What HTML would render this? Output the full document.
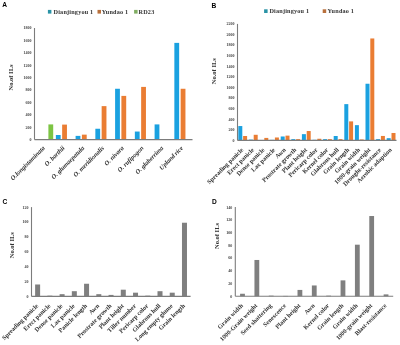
<!DOCTYPE html>
<html><head><meta charset="utf-8"><style>
html,body{margin:0;padding:0;background:#fff;width:400px;height:345px;overflow:hidden;}
svg{display:block;will-change:transform;}
</style></head><body>
<svg width="400" height="345" viewBox="0 0 400 345">
<rect width="400" height="345" fill="#fff"/>
<text x="2.2" y="7.2" font-family="Liberation Sans" font-weight="bold" font-size="6.6" fill="#000">A</text>
<text x="31.5" y="141.00" text-anchor="end" font-family="Liberation Serif" font-weight="bold" font-size="4.0" fill="#444">0</text>
<text x="31.5" y="128.60" text-anchor="end" font-family="Liberation Serif" font-weight="bold" font-size="4.0" fill="#444">200</text>
<text x="31.5" y="116.20" text-anchor="end" font-family="Liberation Serif" font-weight="bold" font-size="4.0" fill="#444">400</text>
<text x="31.5" y="103.80" text-anchor="end" font-family="Liberation Serif" font-weight="bold" font-size="4.0" fill="#444">600</text>
<text x="31.5" y="91.40" text-anchor="end" font-family="Liberation Serif" font-weight="bold" font-size="4.0" fill="#444">800</text>
<text x="31.5" y="79.00" text-anchor="end" font-family="Liberation Serif" font-weight="bold" font-size="4.0" fill="#444">1000</text>
<text x="31.5" y="66.60" text-anchor="end" font-family="Liberation Serif" font-weight="bold" font-size="4.0" fill="#444">1200</text>
<text x="31.5" y="54.20" text-anchor="end" font-family="Liberation Serif" font-weight="bold" font-size="4.0" fill="#444">1400</text>
<text x="31.5" y="41.80" text-anchor="end" font-family="Liberation Serif" font-weight="bold" font-size="4.0" fill="#444">1600</text>
<text x="31.5" y="29.40" text-anchor="end" font-family="Liberation Serif" font-weight="bold" font-size="4.0" fill="#444">1800</text>
<text transform="translate(13.3,77.5) rotate(-90)" text-anchor="middle" font-family="Liberation Serif" font-weight="bold" font-size="6.5" fill="#333">No.of ILs</text>
<rect x="48.40" y="124.41" width="4.8" height="15.19" fill="#7cc443"/>
<rect x="55.85" y="135.01" width="4.8" height="4.59" fill="#1aa1e0"/>
<rect x="62.15" y="124.60" width="4.8" height="15.00" fill="#ea7d33"/>
<rect x="75.60" y="135.88" width="4.8" height="3.72" fill="#1aa1e0"/>
<rect x="81.90" y="134.64" width="4.8" height="4.96" fill="#ea7d33"/>
<rect x="95.35" y="128.75" width="4.8" height="10.85" fill="#1aa1e0"/>
<rect x="101.65" y="106.12" width="4.8" height="33.48" fill="#ea7d33"/>
<rect x="115.10" y="88.76" width="4.8" height="50.84" fill="#1aa1e0"/>
<rect x="121.40" y="95.89" width="4.8" height="43.71" fill="#ea7d33"/>
<rect x="134.85" y="131.54" width="4.8" height="8.06" fill="#1aa1e0"/>
<rect x="141.15" y="86.90" width="4.8" height="52.70" fill="#ea7d33"/>
<rect x="154.60" y="124.41" width="4.8" height="15.19" fill="#1aa1e0"/>
<rect x="174.35" y="42.88" width="4.8" height="96.72" fill="#1aa1e0"/>
<rect x="180.65" y="88.76" width="4.8" height="50.84" fill="#ea7d33"/>
<line x1="34.5" y1="28" x2="34.5" y2="139.6" stroke="#7c7c7c" stroke-width="1.1"/>
<line x1="34.5" y1="139.6" x2="192.5" y2="139.6" stroke="#7c7c7c" stroke-width="1.1"/>
<text transform="translate(45.38,148.40) rotate(-45)" text-anchor="end" font-family="Liberation Serif" font-weight="bold" font-style="italic" font-size="6.4" fill="#333">O.longistaminata</text>
<text transform="translate(65.12,148.40) rotate(-45)" text-anchor="end" font-family="Liberation Serif" font-weight="bold" font-style="italic" font-size="6.4" fill="#333">O. barthii</text>
<text transform="translate(84.88,148.40) rotate(-45)" text-anchor="end" font-family="Liberation Serif" font-weight="bold" font-style="italic" font-size="6.4" fill="#333">O. glumaepatula</text>
<text transform="translate(104.62,148.40) rotate(-45)" text-anchor="end" font-family="Liberation Serif" font-weight="bold" font-style="italic" font-size="6.4" fill="#333">O. meridionalis</text>
<text transform="translate(124.38,148.40) rotate(-45)" text-anchor="end" font-family="Liberation Serif" font-weight="bold" font-style="italic" font-size="6.4" fill="#333">O. nivara</text>
<text transform="translate(144.12,148.40) rotate(-45)" text-anchor="end" font-family="Liberation Serif" font-weight="bold" font-style="italic" font-size="6.4" fill="#333">O. rufipogon</text>
<text transform="translate(163.88,148.40) rotate(-45)" text-anchor="end" font-family="Liberation Serif" font-weight="bold" font-style="italic" font-size="6.4" fill="#333">O. glaberrima</text>
<text transform="translate(183.62,148.40) rotate(-45)" text-anchor="end" font-family="Liberation Serif" font-weight="bold" font-style="italic" font-size="6.4" fill="#333">Upland rice</text>
<rect x="47.900000000000006" y="9.9" width="3.5" height="3.7" fill="#2a93a6"/>
<text x="53.5" y="13.8" font-family="Liberation Serif" font-weight="bold" font-size="6.2" fill="#333" letter-spacing="0.2">Dianjingyou 1</text>
<rect x="97.5" y="9.9" width="3.5" height="3.7" fill="#b8703c"/>
<text x="101.7" y="13.8" font-family="Liberation Serif" font-weight="bold" font-size="6.2" fill="#333" letter-spacing="0.2">Yundao 1</text>
<rect x="134.1" y="9.9" width="3.5" height="3.7" fill="#80ad62"/>
<text x="138.5" y="13.8" font-family="Liberation Serif" font-weight="bold" font-size="6.2" fill="#333" letter-spacing="0.2">RD23</text>
<text x="211.6" y="7.6" font-family="Liberation Sans" font-weight="bold" font-size="6.6" fill="#000">B</text>
<text x="234.5" y="141.80" text-anchor="end" font-family="Liberation Serif" font-weight="bold" font-size="4.0" fill="#444">0</text>
<text x="234.5" y="131.21" text-anchor="end" font-family="Liberation Serif" font-weight="bold" font-size="4.0" fill="#444">200</text>
<text x="234.5" y="120.62" text-anchor="end" font-family="Liberation Serif" font-weight="bold" font-size="4.0" fill="#444">400</text>
<text x="234.5" y="110.03" text-anchor="end" font-family="Liberation Serif" font-weight="bold" font-size="4.0" fill="#444">600</text>
<text x="234.5" y="99.44" text-anchor="end" font-family="Liberation Serif" font-weight="bold" font-size="4.0" fill="#444">800</text>
<text x="234.5" y="88.85" text-anchor="end" font-family="Liberation Serif" font-weight="bold" font-size="4.0" fill="#444">1000</text>
<text x="234.5" y="78.25" text-anchor="end" font-family="Liberation Serif" font-weight="bold" font-size="4.0" fill="#444">1200</text>
<text x="234.5" y="67.66" text-anchor="end" font-family="Liberation Serif" font-weight="bold" font-size="4.0" fill="#444">1400</text>
<text x="234.5" y="57.07" text-anchor="end" font-family="Liberation Serif" font-weight="bold" font-size="4.0" fill="#444">1600</text>
<text x="234.5" y="46.48" text-anchor="end" font-family="Liberation Serif" font-weight="bold" font-size="4.0" fill="#444">1800</text>
<text x="234.5" y="35.89" text-anchor="end" font-family="Liberation Serif" font-weight="bold" font-size="4.0" fill="#444">2000</text>
<text x="234.5" y="25.30" text-anchor="end" font-family="Liberation Serif" font-weight="bold" font-size="4.0" fill="#444">2200</text>
<text transform="translate(215.6,71.2) rotate(-90)" text-anchor="middle" font-family="Liberation Serif" font-weight="bold" font-size="6.5" fill="#333">No.of ILs</text>
<rect x="238.30" y="126.05" width="4.0" height="14.35" fill="#1aa1e0"/>
<rect x="243.10" y="136.00" width="4.0" height="4.40" fill="#ea7d33"/>
<rect x="248.90" y="139.61" width="4.0" height="0.79" fill="#1aa1e0"/>
<rect x="253.70" y="134.79" width="4.0" height="5.61" fill="#ea7d33"/>
<rect x="259.50" y="139.98" width="4.0" height="0.42" fill="#1aa1e0"/>
<rect x="264.30" y="137.91" width="4.0" height="2.49" fill="#ea7d33"/>
<rect x="270.10" y="139.87" width="4.0" height="0.53" fill="#1aa1e0"/>
<rect x="274.90" y="137.49" width="4.0" height="2.91" fill="#ea7d33"/>
<rect x="280.70" y="136.48" width="4.0" height="3.92" fill="#1aa1e0"/>
<rect x="285.50" y="135.63" width="4.0" height="4.77" fill="#ea7d33"/>
<rect x="291.30" y="139.13" width="4.0" height="1.27" fill="#1aa1e0"/>
<rect x="296.10" y="139.13" width="4.0" height="1.27" fill="#ea7d33"/>
<rect x="301.90" y="134.15" width="4.0" height="6.25" fill="#1aa1e0"/>
<rect x="306.70" y="131.03" width="4.0" height="9.37" fill="#ea7d33"/>
<rect x="312.50" y="139.82" width="4.0" height="0.58" fill="#1aa1e0"/>
<rect x="317.30" y="138.76" width="4.0" height="1.64" fill="#ea7d33"/>
<rect x="323.10" y="139.13" width="4.0" height="1.27" fill="#1aa1e0"/>
<rect x="327.90" y="139.13" width="4.0" height="1.27" fill="#ea7d33"/>
<rect x="333.70" y="136.00" width="4.0" height="4.40" fill="#1aa1e0"/>
<rect x="338.50" y="139.13" width="4.0" height="1.27" fill="#ea7d33"/>
<rect x="344.30" y="104.13" width="4.0" height="36.27" fill="#1aa1e0"/>
<rect x="349.10" y="121.39" width="4.0" height="19.01" fill="#ea7d33"/>
<rect x="354.90" y="125.15" width="4.0" height="15.25" fill="#1aa1e0"/>
<rect x="359.70" y="139.45" width="4.0" height="0.95" fill="#ea7d33"/>
<rect x="365.50" y="83.74" width="4.0" height="56.66" fill="#1aa1e0"/>
<rect x="370.30" y="38.46" width="4.0" height="101.94" fill="#ea7d33"/>
<rect x="376.10" y="139.13" width="4.0" height="1.27" fill="#1aa1e0"/>
<rect x="380.90" y="135.95" width="4.0" height="4.45" fill="#ea7d33"/>
<rect x="386.70" y="138.18" width="4.0" height="2.22" fill="#1aa1e0"/>
<rect x="391.50" y="132.99" width="4.0" height="7.41" fill="#ea7d33"/>
<line x1="237.5" y1="23.9" x2="237.5" y2="140.4" stroke="#7c7c7c" stroke-width="1.1"/>
<line x1="237.5" y1="140.4" x2="396.5" y2="140.4" stroke="#7c7c7c" stroke-width="1.1"/>
<text transform="translate(243.80,150.20) rotate(-45)" text-anchor="end" font-family="Liberation Serif" font-weight="bold" font-style="normal" font-size="6.3" fill="#333">Spreading panicle</text>
<text transform="translate(254.40,150.20) rotate(-45)" text-anchor="end" font-family="Liberation Serif" font-weight="bold" font-style="normal" font-size="6.3" fill="#333">Erect panicle</text>
<text transform="translate(265.00,150.20) rotate(-45)" text-anchor="end" font-family="Liberation Serif" font-weight="bold" font-style="normal" font-size="6.3" fill="#333">Dense panicle</text>
<text transform="translate(275.60,150.20) rotate(-45)" text-anchor="end" font-family="Liberation Serif" font-weight="bold" font-style="normal" font-size="6.3" fill="#333">Lax panicle</text>
<text transform="translate(286.20,150.20) rotate(-45)" text-anchor="end" font-family="Liberation Serif" font-weight="bold" font-style="normal" font-size="6.3" fill="#333">Awn</text>
<text transform="translate(296.80,150.20) rotate(-45)" text-anchor="end" font-family="Liberation Serif" font-weight="bold" font-style="normal" font-size="6.3" fill="#333">Prostrate growth</text>
<text transform="translate(307.40,150.20) rotate(-45)" text-anchor="end" font-family="Liberation Serif" font-weight="bold" font-style="normal" font-size="6.3" fill="#333">Plant height</text>
<text transform="translate(318.00,150.20) rotate(-45)" text-anchor="end" font-family="Liberation Serif" font-weight="bold" font-style="normal" font-size="6.3" fill="#333">Pericarp color</text>
<text transform="translate(328.60,150.20) rotate(-45)" text-anchor="end" font-family="Liberation Serif" font-weight="bold" font-style="normal" font-size="6.3" fill="#333">Kernel color</text>
<text transform="translate(339.20,150.20) rotate(-45)" text-anchor="end" font-family="Liberation Serif" font-weight="bold" font-style="normal" font-size="6.3" fill="#333">Glabrous hull</text>
<text transform="translate(349.80,150.20) rotate(-45)" text-anchor="end" font-family="Liberation Serif" font-weight="bold" font-style="normal" font-size="6.3" fill="#333">Grain length</text>
<text transform="translate(360.40,150.20) rotate(-45)" text-anchor="end" font-family="Liberation Serif" font-weight="bold" font-style="normal" font-size="6.3" fill="#333">Grain width</text>
<text transform="translate(371.00,150.20) rotate(-45)" text-anchor="end" font-family="Liberation Serif" font-weight="bold" font-style="normal" font-size="6.3" fill="#333">1000-grain weight</text>
<text transform="translate(381.60,150.20) rotate(-45)" text-anchor="end" font-family="Liberation Serif" font-weight="bold" font-style="normal" font-size="6.3" fill="#333">Drought-resistance</text>
<text transform="translate(392.20,150.20) rotate(-45)" text-anchor="end" font-family="Liberation Serif" font-weight="bold" font-style="normal" font-size="6.3" fill="#333">Aerobic adaption</text>
<rect x="264.09999999999997" y="9.299999999999999" width="3.5" height="3.7" fill="#2a93a6"/>
<text x="269.4" y="13.2" font-family="Liberation Serif" font-weight="bold" font-size="6.2" fill="#333" letter-spacing="0.2">Dianjingyou 1</text>
<rect x="322.7" y="9.299999999999999" width="3.5" height="3.7" fill="#b8703c"/>
<text x="327.5" y="13.2" font-family="Liberation Serif" font-weight="bold" font-size="6.2" fill="#333" letter-spacing="0.2">Yundao 1</text>
<text x="2.5" y="203.7" font-family="Liberation Sans" font-weight="bold" font-size="6.6" fill="#000">C</text>
<text x="28.5" y="297.80" text-anchor="end" font-family="Liberation Serif" font-weight="bold" font-size="4.0" fill="#444">0</text>
<text x="28.5" y="282.92" text-anchor="end" font-family="Liberation Serif" font-weight="bold" font-size="4.0" fill="#444">20</text>
<text x="28.5" y="268.03" text-anchor="end" font-family="Liberation Serif" font-weight="bold" font-size="4.0" fill="#444">40</text>
<text x="28.5" y="253.15" text-anchor="end" font-family="Liberation Serif" font-weight="bold" font-size="4.0" fill="#444">60</text>
<text x="28.5" y="238.27" text-anchor="end" font-family="Liberation Serif" font-weight="bold" font-size="4.0" fill="#444">80</text>
<text x="28.5" y="223.38" text-anchor="end" font-family="Liberation Serif" font-weight="bold" font-size="4.0" fill="#444">100</text>
<text x="28.5" y="208.50" text-anchor="end" font-family="Liberation Serif" font-weight="bold" font-size="4.0" fill="#444">120</text>
<text transform="translate(14.0,245.2) rotate(-90)" text-anchor="middle" font-family="Liberation Serif" font-weight="bold" font-size="6.5" fill="#333">No.of ILs</text>
<rect x="35.12" y="284.49" width="5.0" height="11.91" fill="#7f7f7f"/>
<rect x="47.36" y="295.66" width="5.0" height="0.74" fill="#7f7f7f"/>
<rect x="59.60" y="294.17" width="5.0" height="2.23" fill="#7f7f7f"/>
<rect x="71.83" y="291.19" width="5.0" height="5.21" fill="#7f7f7f"/>
<rect x="84.07" y="283.75" width="5.0" height="12.65" fill="#7f7f7f"/>
<rect x="96.31" y="294.17" width="5.0" height="2.23" fill="#7f7f7f"/>
<rect x="108.55" y="294.91" width="5.0" height="1.49" fill="#7f7f7f"/>
<rect x="120.79" y="289.70" width="5.0" height="6.70" fill="#7f7f7f"/>
<rect x="133.03" y="292.68" width="5.0" height="3.72" fill="#7f7f7f"/>
<rect x="145.27" y="295.66" width="5.0" height="0.74" fill="#7f7f7f"/>
<rect x="157.50" y="291.19" width="5.0" height="5.21" fill="#7f7f7f"/>
<rect x="169.74" y="292.68" width="5.0" height="3.72" fill="#7f7f7f"/>
<rect x="181.98" y="222.73" width="5.0" height="73.67" fill="#7f7f7f"/>
<line x1="31.5" y1="207.1" x2="31.5" y2="296.4" stroke="#7c7c7c" stroke-width="1.1"/>
<line x1="31.5" y1="296.4" x2="190.6" y2="296.4" stroke="#7c7c7c" stroke-width="1.1"/>
<text transform="translate(38.62,306.20) rotate(-45)" text-anchor="end" font-family="Liberation Serif" font-weight="bold" font-style="normal" font-size="6.3" fill="#333">Spreading panicle</text>
<text transform="translate(50.86,306.20) rotate(-45)" text-anchor="end" font-family="Liberation Serif" font-weight="bold" font-style="normal" font-size="6.3" fill="#333">Erect panicle</text>
<text transform="translate(63.10,306.20) rotate(-45)" text-anchor="end" font-family="Liberation Serif" font-weight="bold" font-style="normal" font-size="6.3" fill="#333">Dense panicle</text>
<text transform="translate(75.33,306.20) rotate(-45)" text-anchor="end" font-family="Liberation Serif" font-weight="bold" font-style="normal" font-size="6.3" fill="#333">Lax panicle</text>
<text transform="translate(87.57,306.20) rotate(-45)" text-anchor="end" font-family="Liberation Serif" font-weight="bold" font-style="normal" font-size="6.3" fill="#333">Panicle length</text>
<text transform="translate(99.81,306.20) rotate(-45)" text-anchor="end" font-family="Liberation Serif" font-weight="bold" font-style="normal" font-size="6.3" fill="#333">Awn</text>
<text transform="translate(112.05,306.20) rotate(-45)" text-anchor="end" font-family="Liberation Serif" font-weight="bold" font-style="normal" font-size="6.3" fill="#333">Prostrate growth</text>
<text transform="translate(124.29,306.20) rotate(-45)" text-anchor="end" font-family="Liberation Serif" font-weight="bold" font-style="normal" font-size="6.3" fill="#333">Plant height</text>
<text transform="translate(136.53,306.20) rotate(-45)" text-anchor="end" font-family="Liberation Serif" font-weight="bold" font-style="normal" font-size="6.3" fill="#333">Tiller number</text>
<text transform="translate(148.77,306.20) rotate(-45)" text-anchor="end" font-family="Liberation Serif" font-weight="bold" font-style="normal" font-size="6.3" fill="#333">Pericarp color</text>
<text transform="translate(161.00,306.20) rotate(-45)" text-anchor="end" font-family="Liberation Serif" font-weight="bold" font-style="normal" font-size="6.3" fill="#333">Glabrous hull</text>
<text transform="translate(173.24,306.20) rotate(-45)" text-anchor="end" font-family="Liberation Serif" font-weight="bold" font-style="normal" font-size="6.3" fill="#333">Long empty glume</text>
<text transform="translate(185.48,306.20) rotate(-45)" text-anchor="end" font-family="Liberation Serif" font-weight="bold" font-style="normal" font-size="6.3" fill="#333">Grain length</text>
<text x="212" y="203.7" font-family="Liberation Sans" font-weight="bold" font-size="6.6" fill="#000">D</text>
<text x="232.3" y="297.70" text-anchor="end" font-family="Liberation Serif" font-weight="bold" font-size="4.0" fill="#444">0</text>
<text x="232.3" y="284.96" text-anchor="end" font-family="Liberation Serif" font-weight="bold" font-size="4.0" fill="#444">20</text>
<text x="232.3" y="272.21" text-anchor="end" font-family="Liberation Serif" font-weight="bold" font-size="4.0" fill="#444">40</text>
<text x="232.3" y="259.47" text-anchor="end" font-family="Liberation Serif" font-weight="bold" font-size="4.0" fill="#444">60</text>
<text x="232.3" y="246.73" text-anchor="end" font-family="Liberation Serif" font-weight="bold" font-size="4.0" fill="#444">80</text>
<text x="232.3" y="233.99" text-anchor="end" font-family="Liberation Serif" font-weight="bold" font-size="4.0" fill="#444">100</text>
<text x="232.3" y="221.24" text-anchor="end" font-family="Liberation Serif" font-weight="bold" font-size="4.0" fill="#444">120</text>
<text x="232.3" y="208.50" text-anchor="end" font-family="Liberation Serif" font-weight="bold" font-size="4.0" fill="#444">140</text>
<text transform="translate(218.5,236) rotate(-90)" text-anchor="middle" font-family="Liberation Serif" font-weight="bold" font-size="6.5" fill="#333">No.of ILs</text>
<rect x="240.09" y="293.75" width="4.8" height="2.55" fill="#7f7f7f"/>
<rect x="254.45" y="259.98" width="4.8" height="36.32" fill="#7f7f7f"/>
<rect x="268.80" y="295.66" width="4.8" height="0.64" fill="#7f7f7f"/>
<rect x="283.15" y="295.92" width="4.8" height="0.38" fill="#7f7f7f"/>
<rect x="297.51" y="289.93" width="4.8" height="6.37" fill="#7f7f7f"/>
<rect x="311.86" y="285.47" width="4.8" height="10.83" fill="#7f7f7f"/>
<rect x="326.22" y="295.66" width="4.8" height="0.64" fill="#7f7f7f"/>
<rect x="340.57" y="280.37" width="4.8" height="15.93" fill="#7f7f7f"/>
<rect x="354.93" y="244.69" width="4.8" height="51.61" fill="#7f7f7f"/>
<rect x="369.28" y="216.02" width="4.8" height="80.28" fill="#7f7f7f"/>
<rect x="383.64" y="294.39" width="4.8" height="1.91" fill="#7f7f7f"/>
<line x1="235.3" y1="207.1" x2="235.3" y2="296.3" stroke="#7c7c7c" stroke-width="1.1"/>
<line x1="235.3" y1="296.3" x2="393.2" y2="296.3" stroke="#7c7c7c" stroke-width="1.1"/>
<text transform="translate(243.48,306.10) rotate(-45)" text-anchor="end" font-family="Liberation Serif" font-weight="bold" font-style="normal" font-size="6.3" fill="#333">Grain width</text>
<text transform="translate(257.83,306.10) rotate(-45)" text-anchor="end" font-family="Liberation Serif" font-weight="bold" font-style="normal" font-size="6.3" fill="#333">1000-Grain weight</text>
<text transform="translate(272.19,306.10) rotate(-45)" text-anchor="end" font-family="Liberation Serif" font-weight="bold" font-style="normal" font-size="6.3" fill="#333">Seed shattering</text>
<text transform="translate(286.54,306.10) rotate(-45)" text-anchor="end" font-family="Liberation Serif" font-weight="bold" font-style="normal" font-size="6.3" fill="#333">Senescence</text>
<text transform="translate(300.90,306.10) rotate(-45)" text-anchor="end" font-family="Liberation Serif" font-weight="bold" font-style="normal" font-size="6.3" fill="#333">Plant height</text>
<text transform="translate(315.25,306.10) rotate(-45)" text-anchor="end" font-family="Liberation Serif" font-weight="bold" font-style="normal" font-size="6.3" fill="#333">Awn</text>
<text transform="translate(329.60,306.10) rotate(-45)" text-anchor="end" font-family="Liberation Serif" font-weight="bold" font-style="normal" font-size="6.3" fill="#333">Kernel color</text>
<text transform="translate(343.96,306.10) rotate(-45)" text-anchor="end" font-family="Liberation Serif" font-weight="bold" font-style="normal" font-size="6.3" fill="#333">Grain length</text>
<text transform="translate(358.31,306.10) rotate(-45)" text-anchor="end" font-family="Liberation Serif" font-weight="bold" font-style="normal" font-size="6.3" fill="#333">Grain width</text>
<text transform="translate(372.67,306.10) rotate(-45)" text-anchor="end" font-family="Liberation Serif" font-weight="bold" font-style="normal" font-size="6.3" fill="#333">1000-grain weight</text>
<text transform="translate(387.02,306.10) rotate(-45)" text-anchor="end" font-family="Liberation Serif" font-weight="bold" font-style="normal" font-size="6.3" fill="#333">Blast-resistance</text>
</svg>
</body></html>
